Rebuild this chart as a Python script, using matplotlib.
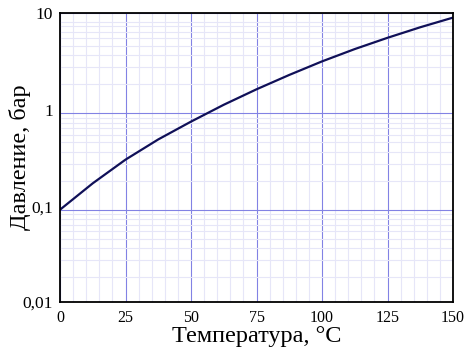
import numpy as np
import matplotlib
matplotlib.use('Agg')
import matplotlib.pyplot as plt
import matplotlib as mpl
from matplotlib.ticker import MultipleLocator, LogLocator, NullFormatter
from matplotlib.transforms import ScaledTranslation

# Data
temp = [0, 12.5, 25, 37.5, 50, 62.5, 75, 87.5, 100, 112.5, 125, 137.5, 150]
pressure = [0.1, 0.188, 0.331, 0.537, 0.822, 1.23, 1.78, 2.51, 3.47, 4.66, 6.10, 7.85, 9.89]

ytick_vals = [0.1, 1]
ytick_labels = ['0,01', '0,1', '1', '10']

mpl.rc('font', family='Liberation Serif')

fig = plt.figure(figsize=(4.74, 3.52), dpi=100)
ax = fig.add_axes([60 / 474, 50 / 352, 393 / 474, 289 / 352])

ax.set_yscale('log')
ylo, yhi = 0.0110, 11.04
ax.set_ylim(ylo, yhi)
ax.set_xlim(0, 150)

# grid
ax.xaxis.set_major_locator(MultipleLocator(25))
ax.xaxis.set_minor_locator(MultipleLocator(5))
ax.yaxis.set_minor_locator(LogLocator(base=10, subs=np.arange(2, 10)))
ax.yaxis.set_minor_formatter(NullFormatter())
ax.grid(True, which='minor', color='#e6e6f8', linewidth=0.8)
ax.grid(True, which='major', color='#8282e4', linewidth=0.8)
ax.set_axisbelow(True)

ax.plot(temp, pressure, color='#101058', linewidth=1.6, zorder=3)

ax.set_yticks([ylo] + ytick_vals + [yhi])
ax.set_yticklabels(ytick_labels)
ax.set_xticks(np.arange(0, 151, 25))

ax.tick_params(axis='both', which='both', length=0)
ax.tick_params(axis='x', pad=5.5, labelsize=11.5)
ax.tick_params(axis='y', pad=5, labelsize=12.5)
for lab in ax.get_yticklabels()[1:3]:
    lab.set_transform(lab.get_transform() + ScaledTranslation(0, 3 / 100, fig.dpi_scale_trans))

ax.set_xlabel('Температура, °C', fontsize=17.5)
ax.set_ylabel('Давление, бар', fontsize=17.5)
ax.xaxis.set_label_coords(0.5, -0.082)
ax.yaxis.set_label_coords(-0.074, 0.5)

for s in ax.spines.values():
    s.set_color('black')
    s.set_linewidth(1.3)
    s.set_zorder(4)

fig.savefig('out.png', dpi=100)
